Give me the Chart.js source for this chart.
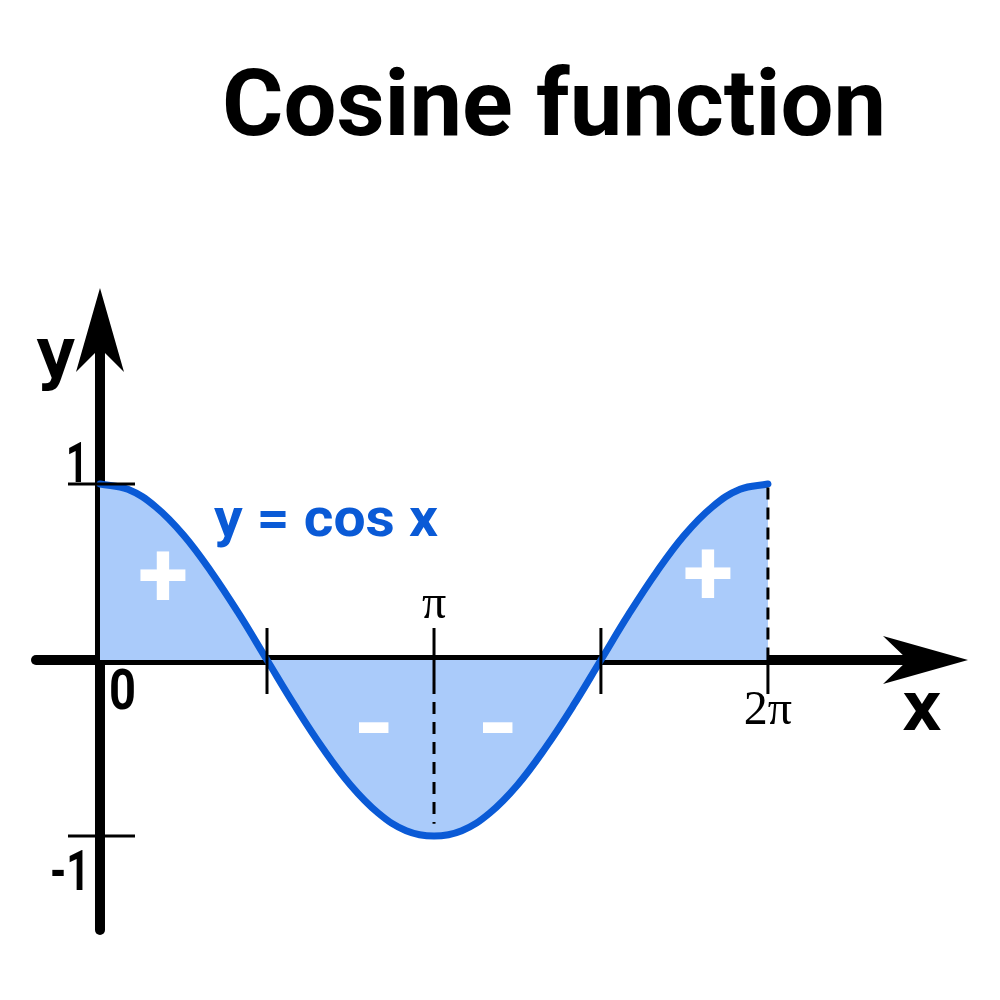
<!DOCTYPE html>
<html>
<head>
<meta charset="utf-8">
<script src="https://cdn.jsdelivr.net/npm/chart.js@4"></script>
<style>
  html, body { margin: 0; padding: 0; background: #ffffff; }
  canvas { display: block; }
</style>
</head>
<body>
<canvas id="myChart" width="1000" height="1000"></canvas>
<script>
const ctx = document.getElementById('myChart');

// x positions in radians (steps of pi/12) and curve values
const xValues = [0, 0.262, 0.524, 0.785, 1.047, 1.309, 1.571, 1.833, 2.094, 2.356, 2.618, 2.880, 3.142,
                 3.403, 3.665, 3.927, 4.189, 4.451, 4.712, 4.974, 5.236, 5.498, 5.760, 6.021, 6.283];
const yValues = [1, 0.97, 0.87, 0.71, 0.5, 0.26, 0, -0.26, -0.5, -0.71, -0.87, -0.97, -1,
                 -0.97, -0.87, -0.71, -0.5, -0.26, 0, 0.26, 0.5, 0.71, 0.87, 0.97, 1];
// tick labels
const xTicks = [{v: 3.142, label: 'π'}, {v: 6.283, label: '2π'}];
const yTicks = [{v: 1, label: '1'}, {v: -1, label: '-1'}];
const minorTicks = [1.571, 4.712];

const FONT = 'Roboto, "DejaVu Sans Condensed", sans-serif';
const FONT_B = '"DejaVu Sans Condensed", "DejaVu Sans", sans-serif';

function arrowHead(c, tipX, tipY, dir){
  c.beginPath();
  if(dir == 'right'){
    c.moveTo(tipX, tipY);
    c.lineTo(tipX - 85, tipY - 24);
    c.lineTo(tipX - 60, tipY);
    c.lineTo(tipX - 85, tipY + 24);
  } else {
    c.moveTo(tipX, tipY);
    c.lineTo(tipX + 24, tipY + 84);
    c.lineTo(tipX, tipY + 60);
    c.lineTo(tipX - 24, tipY + 84);
  }
  c.closePath();
  c.fill();
}

// draw text squeezed to a given width
function fitText(c, txt, x, y, width){
  const w = c.measureText(txt).width;
  c.save();
  c.translate(x, y);
  c.scale(width / w, 1);
  c.fillText(txt, 0, 0);
  c.restore();
}

const axesPlugin = {
  id: 'axesPlugin',
  beforeDatasetsDraw(chart){
    const c = chart.ctx;
    const xs = chart.scales.x, ys = chart.scales.y;
    const x0 = xs.getPixelForValue(0), y0 = ys.getPixelForValue(0);
    c.save();
    c.fillStyle = '#000';
    c.strokeStyle = '#000';
    c.lineCap = 'round';
    c.lineWidth = 10;
    c.beginPath(); c.moveTo(36, y0); c.lineTo(920, y0); c.stroke();
    arrowHead(c, 968, y0, 'right');
    c.beginPath(); c.moveTo(x0, 930); c.lineTo(x0, 340); c.stroke();
    arrowHead(c, x0, 288, 'up');
    c.restore();
  },
  afterDatasetsDraw(chart){
    const c = chart.ctx;
    const xs = chart.scales.x, ys = chart.scales.y;
    const x0 = xs.getPixelForValue(0), y0 = ys.getPixelForValue(0);
    c.save();
    c.strokeStyle = '#000';
    c.fillStyle = '#000';
    c.lineWidth = 3;
    minorTicks.forEach(function(v){
      const px = xs.getPixelForValue(v);
      c.beginPath(); c.moveTo(px, y0 - 32); c.lineTo(px, y0 + 34); c.stroke();
    });
    // pi: solid above, dashed down to curve
    let px = xs.getPixelForValue(xTicks[0].v);
    c.beginPath(); c.moveTo(px, y0 - 32); c.lineTo(px, y0 + 22); c.stroke();
    c.setLineDash([12, 8]);
    c.beginPath(); c.moveTo(px, y0 + 22); c.lineTo(px, ys.getPixelForValue(-0.93)); c.stroke();
    // 2pi: dashed from curve to axis, solid below
    px = xs.getPixelForValue(xTicks[1].v);
    c.beginPath(); c.moveTo(px, ys.getPixelForValue(0.98)); c.lineTo(px, y0 - 6); c.stroke();
    c.setLineDash([]);
    c.beginPath(); c.moveTo(px, y0 - 6); c.lineTo(px, y0 + 34); c.stroke();
    yTicks.forEach(function(t){
      const py = ys.getPixelForValue(t.v);
      c.beginPath(); c.moveTo(x0 - 32, py); c.lineTo(x0 + 35, py); c.stroke();
    });

    // tick labels
    c.textAlign = 'center';
    c.textBaseline = 'alphabetic';
    c.font = '48px "Liberation Serif", "DejaVu Serif", serif';
    c.fillText(xTicks[0].label, xs.getPixelForValue(xTicks[0].v), 618);
    c.fillText(xTicks[1].label, xs.getPixelForValue(xTicks[1].v), 724);
    c.font = 'bold 56px ' + FONT;
    c.textAlign = 'left';
    fitText(c, '1', 66, 482, 22);
    fitText(c, '0', 109, 709, 27);
    fitText(c, yTicks[1].label, 50, 890, 40);
    c.textAlign = 'center';
    c.font = 'bold 68px ' + FONT_B;
    c.fillText('y', 56, 376);
    c.fillText('x', 922, 730);
    // series label
    c.fillStyle = '#0a5ad6';
    c.font = 'bold 54px ' + FONT;
    c.textAlign = 'left';
    fitText(c, 'y = cos x', 214, 536, 224);
    // sign markers
    c.fillStyle = '#ffffff';
    c.font = 'bold 92px ' + FONT;
    c.textAlign = 'center';
    c.textBaseline = 'middle';
    c.fillText('+', 163, 583);
    c.fillText('+', 708, 581);
    c.textAlign = 'left';
    c.font = 'bold 96px ' + FONT;
    fitText(c, '-', 353, 733, 42);
    fitText(c, '-', 477, 733, 42);
    // title
    c.fillStyle = '#000';
    c.textBaseline = 'alphabetic';
    c.font = 'bold 92px ' + FONT;
    fitText(c, 'Cosine function', 222, 135, 664);
    c.restore();
  }
};

const chart = new Chart(ctx, {
  type: 'line',
  data: {
    datasets: [{
      data: xValues.map(function(x, i){ return {x: x, y: yValues[i]}; }),
      borderColor: '#0a5ad6',
      borderWidth: 7,
      backgroundColor: '#aacbfa',
      fill: 'origin',
      pointRadius: 0,
      tension: 0.4,
      borderCapStyle: 'round'
    }]
  },
  options: {
    responsive: false,
    animation: false,
    layout: { padding: 0 },
    plugins: {
      legend: { display: false },
      tooltip: { enabled: false },
      title: { display: false }
    },
    scales: {
      x: { type: 'linear', min: -0.9406, max: 8.466, display: false },
      y: { type: 'linear', min: -1.932, max: 3.75, display: false }
    }
  },
  plugins: [axesPlugin]
});
</script>
</body>
</html>
